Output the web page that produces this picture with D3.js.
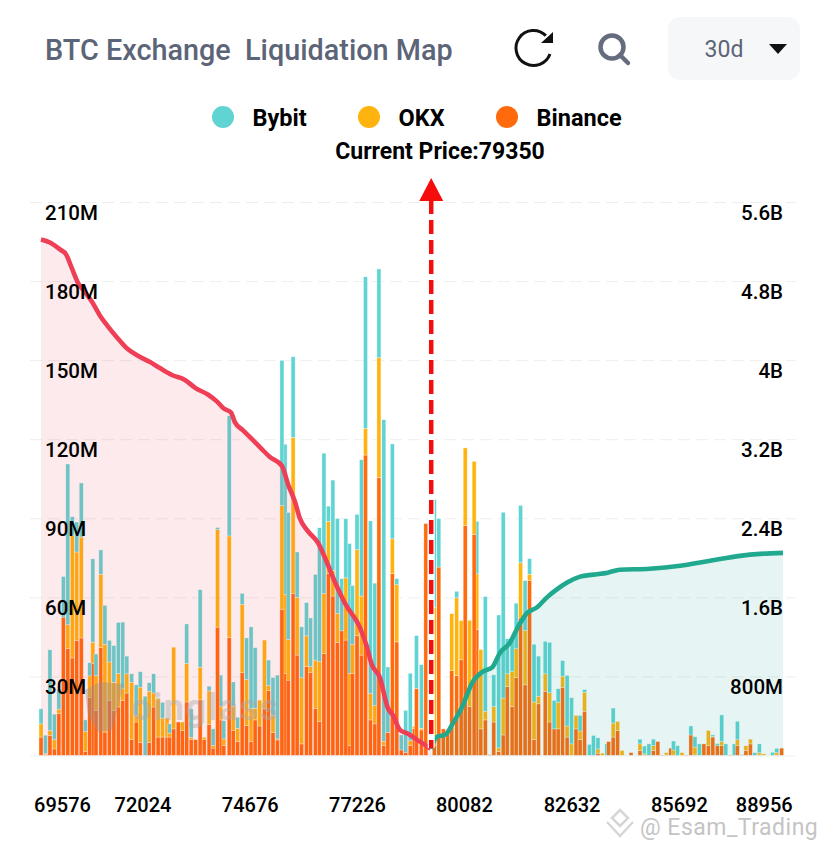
<!DOCTYPE html>
<html>
<head>
<meta charset="utf-8">
<script src="https://cdn.jsdelivr.net/npm/d3@7"></script>
<style>
  html, body { margin: 0; background: #fff; }
  svg { display: block; }
  text { font-family: Roboto, "Noto Sans", sans-serif; }
</style>
</head>
<body>
<svg id="chart" width="829" height="847"></svg>
<script>
// bin number along the price axis, values in millions
const binSlots = [0,1,2,3,4,5,6,7,8,9,9.9,10.9,12.3,13.4,14.3,15.3,16.3,17.3,18.3,19.2,20.3,21.3,22.2,23.3,24.2,25.2,26.2,27.2,28.2,28.8,29.7,30.7,31.6,32.6,33.6,34.6,35.6,36.5,37.6,38.5,39.5,40.9,42.1,43,44,45,46,47,47.9,48.9,50,50.9,51.9,52.9,53.9,55.3,56.4,57.3,58.3,59.4,60.3,61.4,62.3,63.3,64.3,65.3,66.3,67.3,68.2,69.7,70.7,71.7,72.6,73.7,74.7,75.6,76.7,77.6,78.6,79.6,80.6,81.6,82.6,83.5,84,85.1,86.1,88,89,90,91,91.9,93,94,94.9,95.9,96.9,98.4,99.4,100.4,101.3,102.4,103.4,104.3,105.4,106.3,107.3,108.3,109.3,110.3,111.3,112.8,113.8,114.8,115.7,116.7,117.7,118.7,119.7,120.6,121.6,122.7,123.6,124.6,125.6,126.6,127,128,129,130,132,134,135,136,137,138,138.9,139.9,140.9,141.5,142.4,143.4,144.4,145.4,146.3,147.3,148.3,149.3,150.3,151.3,152.3,153.2,154.2,155.1,155.8,156.7,157.7,158.7,159.7,160.7,161.7,163.7,164.6,165.7];
const binance = [7,.4,7.6,2.5,16,52.5,40.5,37,43.7,44.6,1.6,22,17,41,8.9,21,17,18.4,20.9,23.7,6,12.7,5,0,5,18.4,7,7,7,7,10.1,12.7,9.5,20.3,6,6,21.1,6,11.8,2.8,48.7,3.8,44.8,9.5,5.3,31.4,11.3,5.3,13.5,11.2,17.9,24.6,8.7,5.9,55.5,28.6,61.4,38.1,4.4,33.7,31.4,17.9,12.9,38.7,69,60.5,42.9,47.3,43.8,31.1,45.4,38.1,114,13.5,12,105.5,3.8,8.8,69,43.1,2.1,1.1,3.8,10.3,25.5,9.7,88,3.8,71.5,10.1,8.5,32.3,30.4,36.3,87.3,18.6,83.9,10.1,13.5,.3,12.7,1.6,7.8,26.2,18.6,29.5,52.2,26.8,66.5,6.1,19.6,24.4,12.7,10.1,10.1,25.9,7,0,10.1,6.1,16.8,0,0,.9,0,0,5.3,7,9.5,0,1.1,1.9,.2,0,1.9,5.3,.2,.2,2.8,.2,0,0,.2,7.8,.2,0,4.4,3.7,7,3.7,3.7,0,.2,0,3.7,.2,1.9,4.4,0,.2,0,0,.2,2.8];
const okx = [5,.3,1.9,3.5,1.6,0,9.1,46.6,33.5,38.3,7.5,8.2,13.3,27.8,33.3,14.5,10.8,12.7,4.4,7.3,21.8,2.5,20.9,0,19.4,5.3,14.5,7.2,7.2,1.5,31,0,3.2,14.6,.9,0,12.4,.9,12.7,1,37,2.5,38.5,9.2,5,25.9,17.5,12.6,4.4,9.8,25.9,1.9,6.4,.4,39.3,15.4,59.3,21.8,25.1,11.7,2.3,18.3,22.7,22.7,19.9,9.7,11,0,23.6,11.1,32.7,22.4,10.1,10,6.9,45.4,1.6,0,13.2,21.7,0,0,1.8,.7,0,.6,0,52.5,0,0,0,21.5,29.4,14.9,29.4,32.7,27.7,30.1,3.3,0,5.9,1.3,14,4.8,13.4,11,20.9,20.6,2.3,14.2,2.9,6.6,11.1,0,10.1,4.2,4.2,4.4,5.1,3.2,7.2,0,0,1.6,.9,0,0,5.3,3.4,1.9,0,2.5,.4,0,1.8,0,0,.9,0,1.9,0,1.1,0,0,3,0,0,5.8,.2,0,1.6,0,0,0,2.3,0,1.8,1.8,0,.9,.6,0,.9,0];
const bybit = [5.7,7,30.6,9.7,7.6,15.4,61,7,11.4,20.5,4.4,5,8.2,9.2,14.8,8.2,13.9,19.4,25.3,6.7,3.2,11.6,5.9,22.5,3.2,7.3,.4,6,0,3.5,0,0,0,15,10.8,0,29.4,0,1.8,6.3,.8,6.9,45.6,9.2,4.2,4.2,15.8,30.9,23,0,0,9.7,14.4,24.2,55.1,48.2,30.6,17.3,19.3,12.6,18.5,32.5,50.8,53.3,5.7,34.3,36,19.8,22.4,22.3,13.4,51.7,57.5,65.5,46.5,33.7,122,24.8,36,2.3,5.7,16,25.6,0,20,24.2,0,40.9,18.4,0,0,0,2.5,0,0,0,0,0,43.5,0,12,50.4,70.5,13.3,11.6,17.3,21.8,19,5.9,21.9,15.2,12.3,19.1,10.8,5.1,5.9,19.2,17.5,0,5.9,1,4.2,7.6,4.2,0,4.4,0,5.7,0,0,0,1.8,3,4.4,2.5,0,0,0,0,3.4,3.7,0,0,3.4,3.9,4.4,0,0,.6,.8,10.1,4.4,0,4.4,7,.2,0,0,1.1,3.3,0,1.2,1.6,0];

// bars partly hidden by their neighbours
const underSlots = [11.6,40.2,54.6,69,97.5];
const underBinance = [34.8,13.5,31.1,3.8,47.8];
const underOkx = [8.2,5,30,27.4,21.1];
const underBybit = [31.6,12,57,49.2,20];

// cumulative liquidation leverage, billions
const longSlots = [0,2,4.25,5.6,6.9,8.3,9.8,11.4,13.2,15,17,19.2,21.5,24.4,26.6,29.3,32.2,34.5,37.4,39.4,40.9,42.5,43.4,45.2,47.2,49.4,51.2,53.9,55.3,56.8,57.9,59.7,62,64,65.8,68,71.4,72.9,74,75.8,77.6,78.7,80.3,82.1,84.8,87.2];
const longValues = [5.22,5.19,5.12,5.07,4.93,4.78,4.69,4.59,4.45,4.34,4.23,4.12,4.05,3.98,3.92,3.85,3.8,3.72,3.65,3.58,3.51,3.47,3.37,3.29,3.2,3.1,3.02,2.93,2.74,2.57,2.4,2.27,2.15,1.95,1.75,1.54,1.29,1.1,.92,.79,.48,.41,.26,.22,.14,.07];
const shortSlots = [87.2,88.6,90.4,92.2,94.2,96.4,98.9,100.9,102.7,104.9,106.7,108.7,111,113.2,115.4,117.7,120.6,123.5,126.8,129.5,136.2,143,149.7,156.4,160.9,166];
const shortValues = [.07,.19,.21,.33,.49,.73,.85,.89,1.04,1.14,1.3,1.44,1.5,1.6,1.68,1.75,1.81,1.83,1.85,1.88,1.89,1.92,1.97,2.02,2.04,2.05];

const priceSlots = [4.7,22.7,46.7,70.7,94.6,118.7,142.7,161.7];
const priceLabels = ['69576','72024','74676','77226','80082','82632','85692','88956'];
const currentSlot = 87.3;
const leftTicks = [30,60,90,120,150,180,210];
const rightTicks = [.8,1.6,2.4,3.2,4,4.8,5.6];
const exchanges = ['Bybit','OKX','Binance'];
const exchangeColors = ['#5fd4d2','#ffb30e','#ff6a0c'];

const svg = d3.select('#chart');
const x = d3.scaleLinear().domain([0,166]).range([41,783]);
const yM = d3.scaleLinear().domain([0,210]).range([755.5,202]);
const yB = d3.scaleLinear().domain([0,5.6]).range([755.5,202]);
const barW = 4;

// header
svg.append('text').attr('x',45).attr('y',60).attr('font-size',28.8).attr('font-weight',500)
  .attr('fill','#5c6477').style('white-space','pre').text('BTC Exchange  Liquidation Map');

const ctx = d3.path();
ctx.arc(533.5,48,17.5,Math.PI*0.11,Math.PI*1.75);
svg.append('path').attr('d',ctx.toString()).attr('fill','none').attr('stroke','#111').attr('stroke-width',3);
svg.append('path').attr('d','M541,43 L553,43 L553,32 Z').attr('fill','#111');

const glass = svg.append('g').attr('fill','none').attr('stroke','#646c7d').attr('stroke-width',4.5);
glass.append('circle').attr('cx',612).attr('cy',47).attr('r',11.5);
glass.append('line').attr('x1',620).attr('y1',55).attr('x2',628).attr('y2',63).attr('stroke-linecap','round');

svg.append('rect').attr('x',668).attr('y',17).attr('width',132).attr('height',63).attr('rx',12).attr('fill','#f6f7f9');
svg.append('text').attr('x',724).attr('y',57).attr('text-anchor','middle').attr('font-size',23).attr('fill','#5c6477').text('30d');
svg.append('path').attr('d','M769,44 L787,44 L778,54 Z').attr('fill','#111');

// legend
const legendX = [223,369,507];
exchanges.forEach((name,i) => {
  svg.append('circle').attr('cx',legendX[i]).attr('cy',117).attr('r',11).attr('fill',exchangeColors[i]);
  svg.append('text').attr('x',legendX[i]+29.5).attr('y',126).attr('font-size',23.5).attr('font-weight',700).attr('fill','#000').text(name);
});
svg.append('text').attr('x',440).attr('y',159).attr('text-anchor','middle').attr('font-size',23).attr('font-weight',700).attr('fill','#000')
  .text('Current Price:79350');

// grid
const gGrid = svg.append('g').attr('transform','translate(30,0)')
  .call(d3.axisRight(yM).tickValues(leftTicks).tickSize(766).tickFormat(''));
gGrid.select('.domain').remove();
gGrid.selectAll('line').attr('stroke','#eee').attr('stroke-dasharray','12 6');

// stacked bars
function drawBars(slots, bin, ok, by, cls) {
  const rows = slots.map((s,i) => ({slot:s, Binance:bin[i], OKX:ok[i], Bybit:by[i]}));
  const stack = d3.stack().keys(['Binance','OKX','Bybit'])(rows);
  const color = d3.scaleOrdinal().domain(exchanges).range(exchangeColors);
  svg.append('g').attr('class',cls).selectAll('g').data(rows.map((r,i) => stack.map(s => ({key:s.key, v:s[i], slot:r.slot}))))
    .join('g').selectAll('rect').data(d => d.filter(e => e.v[1] > e.v[0])).join('rect')
    .attr('x', d => x(d.slot) - barW/2)
    .attr('width', barW)
    .attr('y', d => yM(d.v[1]))
    .attr('height', d => yM(d.v[0]) - yM(d.v[1]))
    .attr('fill', d => color(d.key))
    .attr('stroke','#fff').attr('stroke-width',0.5).attr('stroke-opacity',0.7);
}
drawBars(underSlots, underBinance, underOkx, underBybit, 'under');
drawBars(binSlots, binance, okx, bybit, 'bars');

svg.append('line').attr('x1',30).attr('x2',796).attr('y1',756).attr('y2',756).attr('stroke','#eef0f2');

// cumulative areas
const longData = longSlots.map((s,i) => [s,longValues[i]]);
const shortData = shortSlots.map((s,i) => [s,shortValues[i]]);
const area = d3.area().x(d => x(d[0])).y0(yB(0)).y1(d => yB(d[1])).curve(d3.curveMonotoneX);
const line = d3.line().x(d => x(d[0])).y(d => yB(d[1])).curve(d3.curveMonotoneX);
svg.append('path').datum(longData).attr('d',area).attr('fill','#ee3f4f').attr('fill-opacity',0.11);
svg.append('path').datum(shortData).attr('d',area).attr('fill','#1fa892').attr('fill-opacity',0.11);

// watermark
const mark = svg.append('g').attr('opacity',0.42);
mark.append('path').attr('d','M85,690 L100,682 L124,684 L120,700 L112,730 L98,732 L88,715 Z').attr('fill','#9c8f86');
mark.append('text').attr('x',131).attr('y',720).attr('font-size',36).attr('font-weight',700).attr('letter-spacing',1.5).attr('fill','#a8a8a8').text('oinglass');

svg.append('path').datum(longData).attr('d',line).attr('fill','none').attr('stroke','#ee3f57').attr('stroke-width',4.6).attr('stroke-linejoin','round');
svg.append('path').datum(shortData).attr('d',line).attr('fill','none').attr('stroke','#20a98f').attr('stroke-width',4.6).attr('stroke-linejoin','round');

// axis labels sit above the bars
const leftAxis = d3.axisRight(yM).tickValues(leftTicks).tickSize(0).tickFormat(d => d + 'M');
const gLeft = svg.append('g').attr('transform','translate(45,0)').call(leftAxis);
gLeft.select('.domain').remove();
gLeft.selectAll('text').attr('x',0).attr('dy',17.5).attr('text-anchor','start').attr('font-size',20.5).attr('font-weight',500).attr('fill','#000').attr('font-family','Roboto');

const rightAxis = d3.axisLeft(yB).tickValues(rightTicks).tickSize(0)
  .tickFormat(d => d < 1 ? Math.round(d*1000) + 'M' : d + 'B');
const gRight = svg.append('g').attr('transform','translate(783,0)').call(rightAxis);
gRight.select('.domain').remove();
gRight.selectAll('text').attr('x',0).attr('dy',17.5).attr('text-anchor','end').attr('font-size',20.5).attr('font-weight',500).attr('fill','#000').attr('font-family','Roboto');

// current price marker
const cx = x(currentSlot);
svg.append('line').attr('x1',cx).attr('x2',cx).attr('y1',200).attr('y2',748).attr('stroke','#fff').attr('stroke-width',7);
svg.append('line').attr('x1',cx).attr('x2',cx).attr('y1',200).attr('y2',748).attr('stroke','#f50d0d').attr('stroke-width',4.5).attr('stroke-dasharray','14 6');
svg.append('path').attr('d',`M${cx},178 L${cx+12},201 L${cx-12},201 Z`).attr('fill','#f50d0d');

// x axis labels
const xAxis = d3.axisBottom(x).tickValues(priceSlots).tickSize(0).tickFormat((d,i) => priceLabels[i]);
const gX = svg.append('g').attr('transform','translate(0,793)').call(xAxis);
gX.select('.domain').remove();
gX.selectAll('text').attr('dy',16).attr('font-size',20).attr('font-weight',500).attr('fill','#000').attr('font-family','Roboto');

// credit
const logo = svg.append('g').attr('fill','none').attr('stroke','#d6d6d6').attr('stroke-width',2.5);
logo.append('path').attr('d','M620,810 L628,818 L620,826 L612,818 Z');
logo.append('path').attr('d','M607,822 L620,836 L633,822');
svg.append('text').attr('x',640).attr('y',835).attr('font-size',23).attr('letter-spacing',0.5).attr('fill','#c4c4c4').text('@ Esam_Trading');
</script>
</body>
</html>
